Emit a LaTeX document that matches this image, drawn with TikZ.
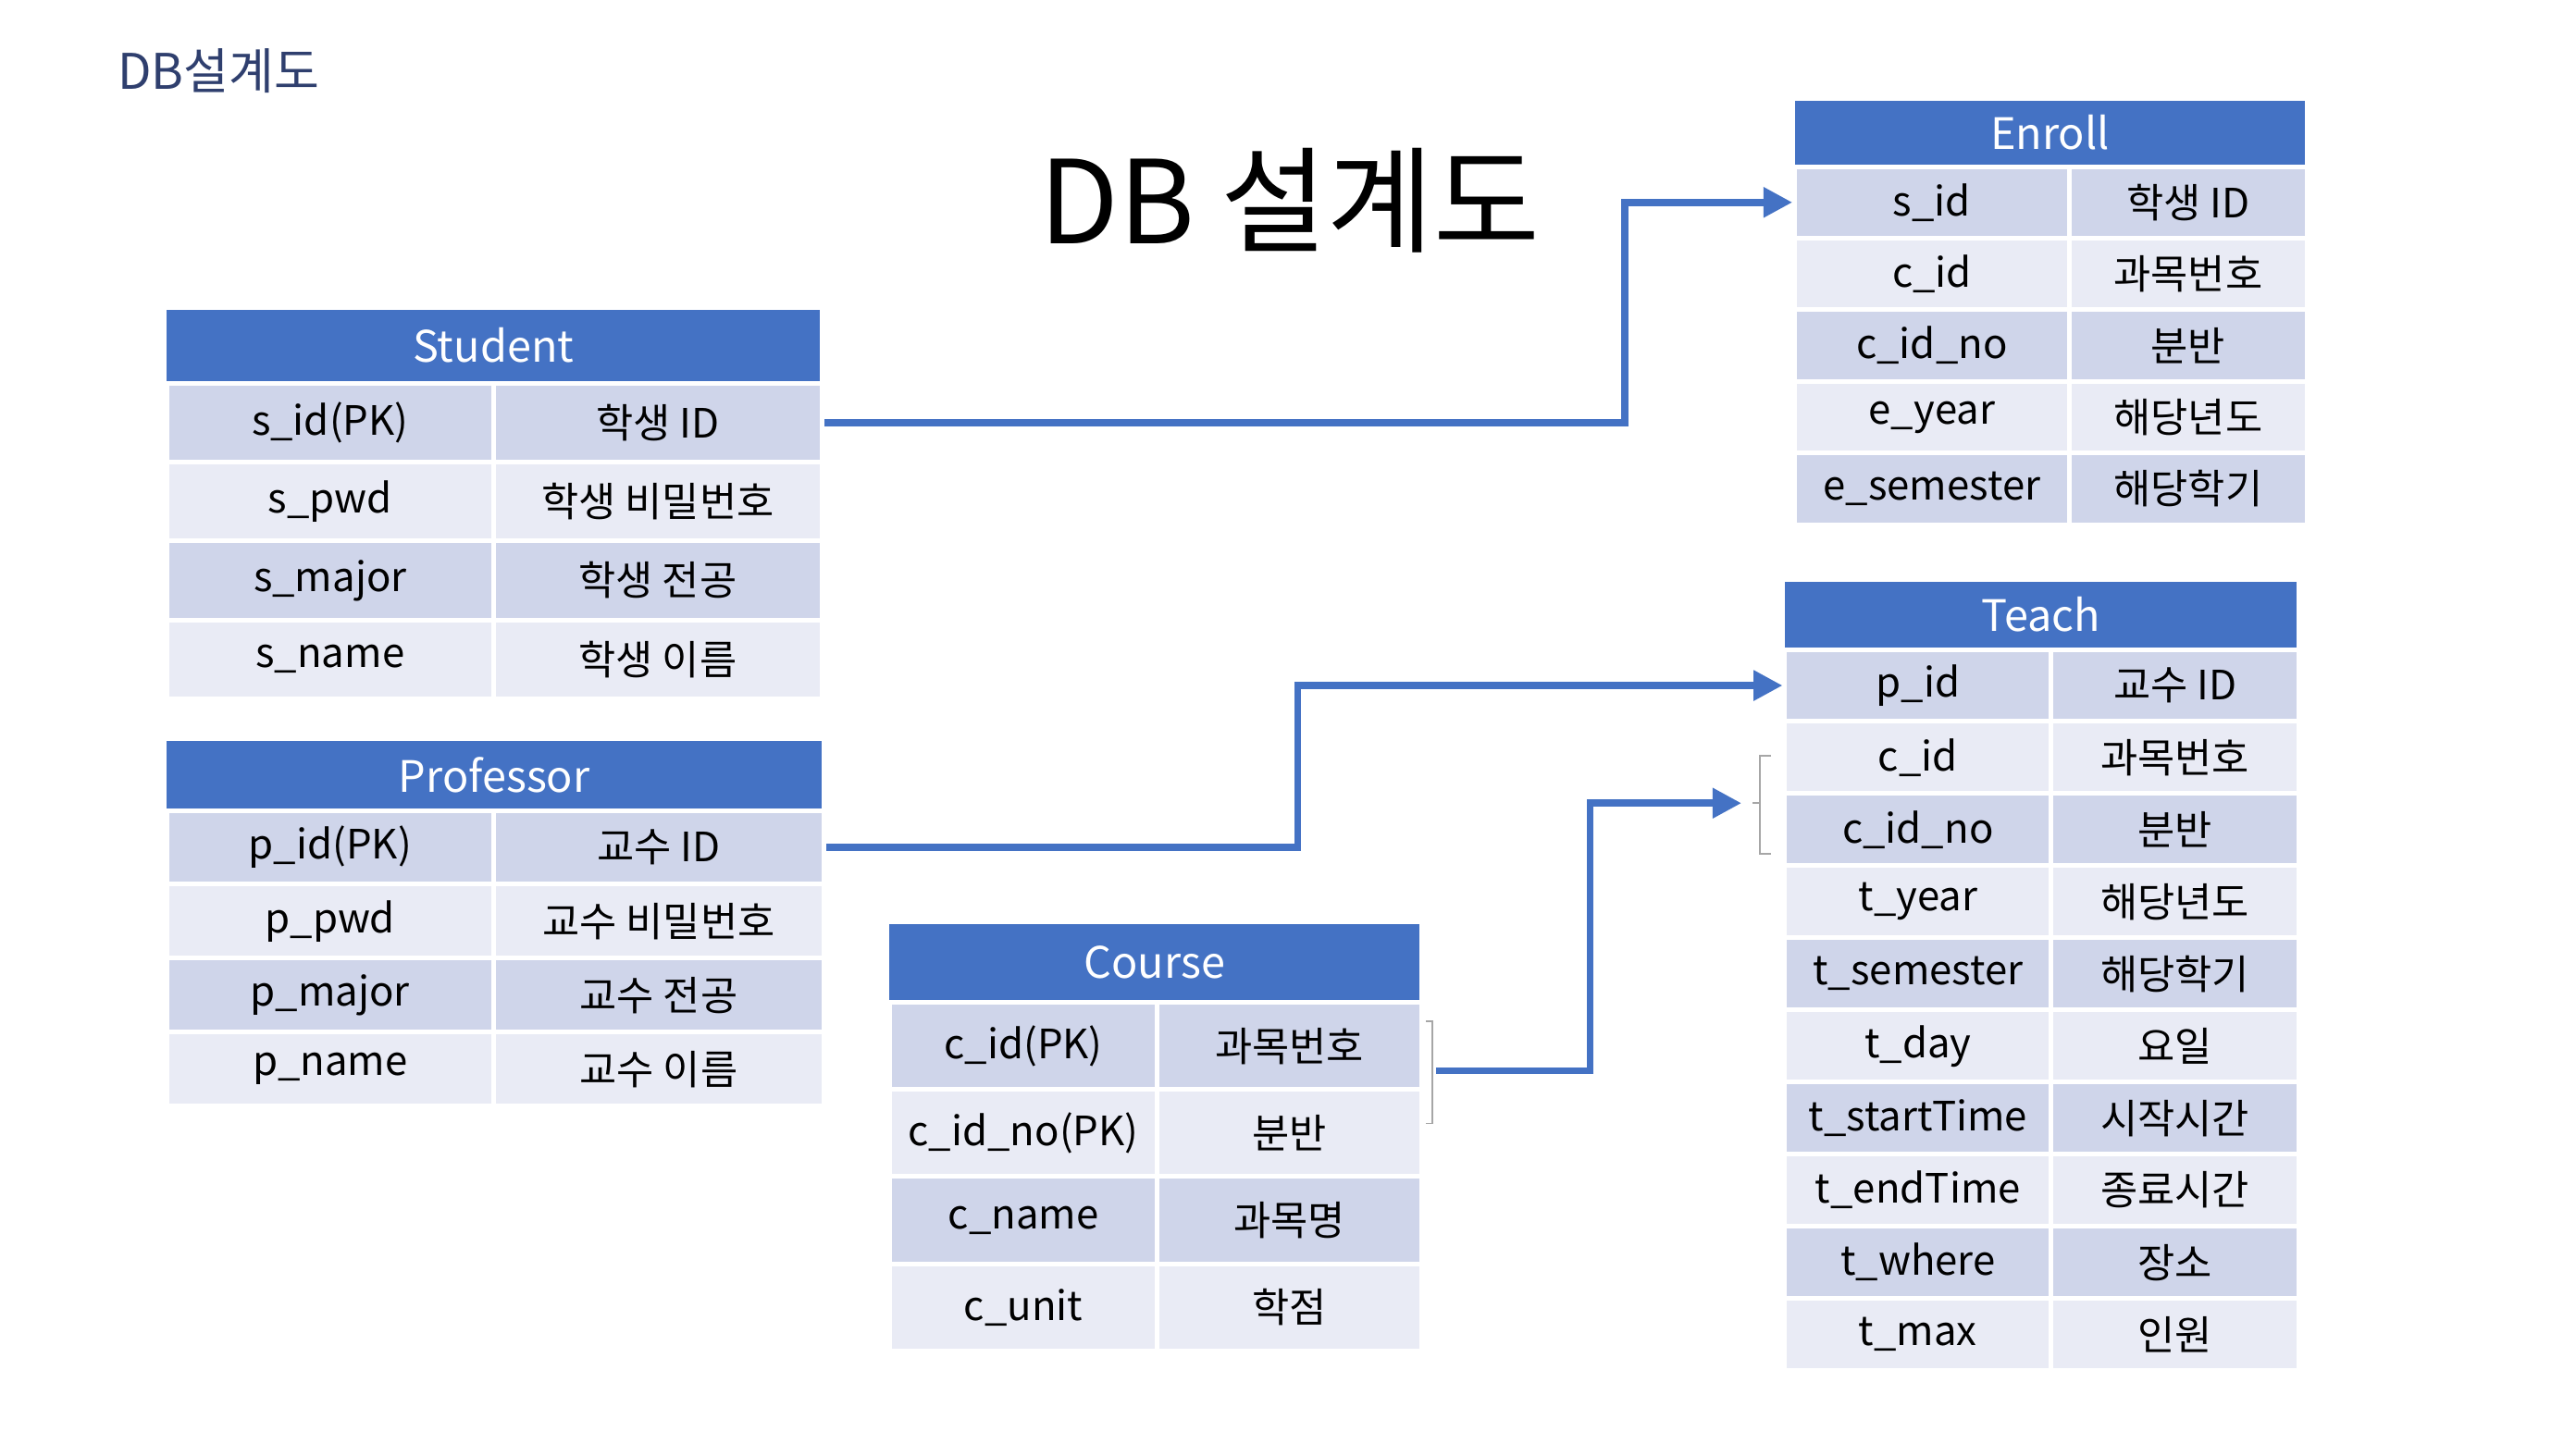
\documentclass[tikz,border=0pt]{standalone}
\usepackage{fontspec}
\setmainfont{Noto Sans CJK KR}
\usetikzlibrary{arrows.meta}
\definecolor{hdrblue}{HTML}{4472C4}
\definecolor{rowdark}{HTML}{CFD5EA}
\definecolor{rowlight}{HTML}{E9EBF5}
\definecolor{titleblue}{HTML}{2F3F6E}
\tikzset{
  hdr/.style={rectangle, fill=hdrblue, draw=white, anchor=north west, text=white, font=\fontsize{7.5}{8}\selectfont, inner sep=0pt},
  cell/.style={rectangle, draw=white, line width=0.8pt, anchor=north west, font=\fontsize{7}{8}\selectfont, inner sep=0pt},
  link/.style={draw=hdrblue, line width=1.2pt, -{Triangle[length=5pt,width=5pt]}},
  brace/.style={draw=gray!70, line width=0.3pt}
}
\begin{document}
\begin{tikzpicture}[x=0.01cm, y=-0.01cm]
  \useasboundingbox[fill=white] (0,0) rectangle (1568,879);

  \node[font=\fontsize{8.5}{9}\selectfont, text=titleblue] (small) at (133,43) {DB설계도};
  \node[font=\fontsize{20}{22}\selectfont] (title) at (785,122) {DB 설계도};

  % Student
  \node[hdr, minimum width=3.99cm, minimum height=0.45cm] (student) at (100,187) {Student};
  \foreach \a/\b [count=\i] in {s\_id(PK)/학생 ID, s\_pwd/학생 비밀번호, s\_major/학생 전공, s\_name/학생 이름} {
    \ifodd\i\def\rc{rowdark}\else\def\rc{rowlight}\fi
    \pgfmathsetmacro\yy{232+(\i-1)*48}
    \node[cell, fill=\rc, minimum width=1.99cm, minimum height=0.48cm] (student-\i-a) at (100,\yy) {\a};
    \node[cell, fill=\rc, minimum width=2.00cm, minimum height=0.48cm] (student-\i-b) at (299,\yy) {\b};
  }

  % Professor
  \node[hdr, minimum width=4.00cm, minimum height=0.42cm] (professor) at (100,450) {Professor};
  \foreach \a/\b [count=\i] in {p\_id(PK)/교수 ID, p\_pwd/교수 비밀번호, p\_major/교수 전공, p\_name/교수 이름} {
    \ifodd\i\def\rc{rowdark}\else\def\rc{rowlight}\fi
    \pgfmathsetmacro\yy{492+(\i-1)*45}
    \node[cell, fill=\rc, minimum width=1.99cm, minimum height=0.45cm] (professor-\i-a) at (100,\yy) {\a};
    \node[cell, fill=\rc, minimum width=2.01cm, minimum height=0.45cm] (professor-\i-b) at (299,\yy) {\b};
  }

  % Course
  \node[hdr, minimum width=3.24cm, minimum height=0.48cm] (course) at (540,561) {Course};
  \foreach \a/\b [count=\i] in {c\_id(PK)/과목번호, c\_id\_no(PK)/분반, c\_name/과목명, c\_unit/학점} {
    \ifodd\i\def\rc{rowdark}\else\def\rc{rowlight}\fi
    \pgfmathsetmacro\yy{609+(\i-1)*53}
    \node[cell, fill=\rc, minimum width=1.63cm, minimum height=0.53cm] (course-\i-a) at (540,\yy) {\a};
    \node[cell, fill=\rc, minimum width=1.61cm, minimum height=0.53cm] (course-\i-b) at (703,\yy) {\b};
  }

  % Enroll
  \node[hdr, minimum width=3.12cm, minimum height=0.40cm] (enroll) at (1091,60) {Enroll};
  \foreach \a/\b [count=\i] in {s\_id/학생 ID, c\_id/과목번호, c\_id\_no/분반, e\_year/해당년도, e\_semester/해당학기} {
    \ifodd\i\def\rc{rowdark}\else\def\rc{rowlight}\fi
    \pgfmathsetmacro\yy{100+(\i-1)*43.6}
    \node[cell, fill=\rc, minimum width=1.67cm, minimum height=0.436cm] (enroll-\i-a) at (1091,\yy) {\a};
    \node[cell, fill=\rc, minimum width=1.45cm, minimum height=0.436cm] (enroll-\i-b) at (1258,\yy) {\b};
  }

  % Teach
  \node[hdr, minimum width=3.13cm, minimum height=0.41cm] (teach) at (1085,353) {Teach};
  \foreach \a/\b [count=\i] in {p\_id/교수 ID, c\_id/과목번호, c\_id\_no/분반, t\_year/해당년도, t\_semester/해당학기, t\_day/요일, t\_startTime/시작시간, t\_endTime/종료시간, t\_where/장소, t\_max/인원} {
    \ifodd\i\def\rc{rowdark}\else\def\rc{rowlight}\fi
    \pgfmathsetmacro\yy{394+(\i-1)*43.9}
    \node[cell, fill=\rc, minimum width=1.62cm, minimum height=0.439cm] (teach-\i-a) at (1085,\yy) {\a};
    \node[cell, fill=\rc, minimum width=1.51cm, minimum height=0.439cm] (teach-\i-b) at (1247,\yy) {\b};
  }

  % brackets
  \draw[brace] (868,622) -- (872,622) -- (872,684) -- (868,684);
  \coordinate (cbr) at (874,652);
  \draw[brace] (1078,460) -- (1071,460) -- (1071,520) -- (1078,520);
  \draw[brace] (1071,489) -- (1067,489);
  \coordinate (tbr) at (1060,489);

  % links
  \draw[link] (student-1-b.east) -- ++(487,0) |- (enroll-1-a.west);
  \draw[link] (professor-1-b.east) -- ++(287,0) |- (teach-1-a.west);
  \draw[link] (cbr) -- ++(94,0) |- (tbr);
\end{tikzpicture}
\end{document}
